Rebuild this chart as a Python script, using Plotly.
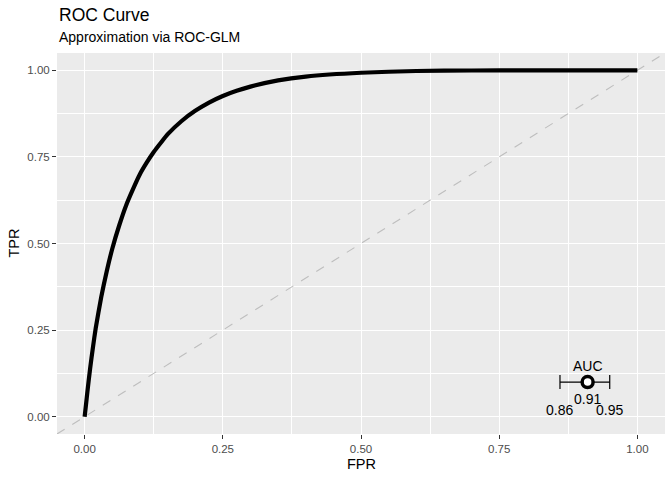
import plotly.graph_objects as go

# ROC curve points
fpr = [0.0, 0.0025, 0.005, 0.01, 0.015, 0.02, 0.03, 0.04, 0.05, 0.0625, 0.075, 0.0875,
       0.10, 0.1125, 0.125, 0.1375, 0.15, 0.175, 0.20, 0.225, 0.25, 0.275,
       0.30, 0.35, 0.40, 0.50, 0.60, 0.70, 0.80, 0.90, 1.0]
tpr = [0.0, 0.035, 0.072, 0.14, 0.20, 0.255, 0.345, 0.42, 0.485, 0.552, 0.61, 0.657,
       0.70, 0.734, 0.764, 0.79, 0.815, 0.853, 0.883, 0.907, 0.926, 0.941,
       0.953, 0.971, 0.982, 0.993, 0.998, 0.9995, 1.0, 1.0, 1.0]

auc = 0.91
auc_lo = 0.86
auc_hi = 0.95
auc_y = 0.10

ticks = [0.0, 0.25, 0.5, 0.75, 1.0]
tick_labels = ["0.00", "0.25", "0.50", "0.75", "1.00"]
minor_ticks = [0.125, 0.375, 0.625, 0.875]

FONT = "Liberation Sans, Arial, sans-serif"

fig = go.Figure()

# diagonal reference line (abline)
fig.add_trace(go.Scatter(x=[-0.05, 1.05], y=[-0.05, 1.05], mode="lines",
                         line=dict(color="#BEBEBE", width=1.1, dash="dash"),
                         hoverinfo="skip", showlegend=False))

# ROC curve
fig.add_trace(go.Scatter(x=fpr, y=tpr, mode="lines",
                         line=dict(color="black", width=4.2, shape="spline", smoothing=0.5),
                         showlegend=False))

# AUC interval
fig.add_trace(go.Scatter(x=[auc], y=[auc_y], mode="markers",
                         error_x=dict(type="data", symmetric=False,
                                      array=[auc_hi - auc], arrayminus=[auc - auc_lo],
                                      color="black", thickness=1.2, width=7),
                         marker=dict(size=11, color="white", line=dict(color="black", width=3.5)),
                         showlegend=False))

annots = [
    dict(x=auc, y=auc_y + 0.047, text="AUC"),
    dict(x=auc, y=auc_y - 0.048, text=f"{auc:.2f}"),
    dict(x=auc_lo, y=auc_y - 0.08, text=f"{auc_lo:.2f}"),
    dict(x=auc_hi, y=auc_y - 0.08, text=f"{auc_hi:.2f}"),
]
for a in annots:
    fig.add_annotation(x=a["x"], y=a["y"], text=a["text"], showarrow=False,
                       font=dict(family=FONT, size=14, color="black"),
                       xanchor="center", yanchor="middle")

axis_common = dict(
    tickvals=ticks, ticktext=tick_labels,
    showgrid=True, gridcolor="white", gridwidth=1.1,
    zeroline=False, showline=False, automargin=False,
    ticks="outside", ticklen=4, tickwidth=1.1, tickcolor="#333333",
    tickfont=dict(family=FONT, size=11.5, color="#4D4D4D"),
    minor=dict(tickvals=minor_ticks, showgrid=True, gridcolor="white", gridwidth=0.55, ticks=""),
    range=[-0.05, 1.05],
)

fig.update_xaxes(**axis_common)
fig.update_yaxes(**axis_common)

# axis titles
fig.add_annotation(text="FPR", xref="paper", yref="paper", x=0.5, y=0,
                   xanchor="center", yanchor="middle", yshift=-30, showarrow=False,
                   font=dict(family=FONT, size=14.5, color="black"))
fig.add_annotation(text="TPR", xref="paper", yref="paper", x=0, y=0.5, textangle=-90,
                   xanchor="center", yanchor="middle", xshift=-44, showarrow=False,
                   font=dict(family=FONT, size=14.5, color="black"))

# title and subtitle
fig.add_annotation(text="ROC Curve", xref="paper", yref="paper", x=0, y=1,
                   xanchor="left", yanchor="bottom", yshift=26, showarrow=False,
                   font=dict(family=FONT, size=17.5, color="black"))
fig.add_annotation(text="Approximation via ROC-GLM", xref="paper", yref="paper", x=0, y=1,
                   xanchor="left", yanchor="bottom", yshift=6, showarrow=False,
                   font=dict(family=FONT, size=14, color="black"))

fig.update_layout(
    width=672, height=480,
    margin=dict(l=57, r=7, t=53, b=46),
    plot_bgcolor="#EBEBEB", paper_bgcolor="white",
    font=dict(family=FONT),
)

fig.write_html("out.html", config={"displayModeBar": False},
               post_script="document.body.style.margin='0';document.body.style.overflow='hidden';")
